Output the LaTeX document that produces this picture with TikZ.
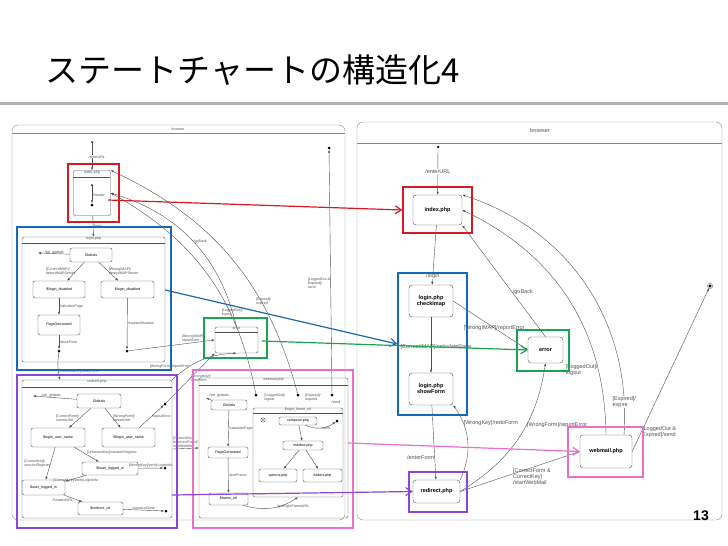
\documentclass[tikz,border=0pt]{standalone}
\usepackage{fontspec}
\setmainfont{Liberation Sans}
\newfontfamily\cjk{Noto Sans CJK JP}
\usetikzlibrary{positioning,arrows.meta}

\definecolor{hlred}{RGB}{215,25,35}
\definecolor{hlblue}{RGB}{25,105,175}
\definecolor{hlgreen}{RGB}{25,165,80}
\definecolor{hlpink}{RGB}{235,110,205}
\definecolor{hlpurple}{RGB}{140,70,215}
\definecolor{ink}{RGB}{80,80,80}

\tikzset{
  st/.style={draw=ink,rounded corners=3pt,font=\bfseries\fontsize{5.5}{6}\selectfont,align=center,inner sep=1pt},
  sst/.style={draw=ink,rounded corners=2pt,font=\fontsize{3.6}{4}\selectfont,inner sep=0.8pt},
  frame/.style={draw=ink!70,rounded corners=6pt},
  dot/.style={circle,fill=black,inner sep=0pt,minimum size=3pt},
  tr/.style={draw=ink,-{Latex[length=3pt]}},
  lbl/.style={font=\fontsize{5.5}{6}\selectfont,text=ink,align=left,inner sep=0.5pt},
  slbl/.style={font=\fontsize{3.6}{4}\selectfont,text=ink,align=left,inner sep=0.3pt},
  hl/.style={draw=#1,line width=1.4pt,minimum width=0pt},
  link/.style={draw=#1,line width=1.2pt,-{Straight Barb[length=6pt,width=8pt]}}
}

\begin{document}
\begin{tikzpicture}[x=1pt,y=-1pt]
    \useasboundingbox (0,0) rectangle (728,546);
    % title
    \node[anchor=west,font=\cjk\fontsize{33}{36}\selectfont] (title) at (42,70) {ステートチャートの構造化4};
    \draw[line width=3pt,gray!60] (0,103) -- (728,103);

    % ---------- left chart ----------
    \draw[frame] (12,125) rectangle (345,520);
    \draw[ink!70] (12,133) -- (345,133);
    \node[slbl] (lbrowser) at (178,129) {browser};

    \node[dot,minimum size=2pt] (lstart) at (92,142) {};
    \node[sst,minimum width=37pt,minimum height=45pt] (lindex) at (92,193) {};
    \node[slbl,anchor=north] (lindext) at (lindex.north) {index.php};
    \draw[ink] (73,177) -- (110,177);
    \node[dot,minimum size=2pt] (lhin) at (92,185) {};
    \node[dot,minimum size=3pt] (lhout) at (92,205) {};
    \draw[tr] (lhin) -- node[slbl,right] {/header} (lhout);
    \draw[tr] (lstart) -- node[slbl,right=-4pt,fill=white] {/enterURL} (lindex);

    \node[sst,minimum width=143pt,minimum height=125pt] (llogin) at (93.5,299.5) {};
    \node[slbl,anchor=north] (llogint) at (llogin.north) {login.php};
    \draw[ink] (22,243) -- (165,243);
    \node[sst,minimum width=42pt,minimum height=14pt] (lglob) at (91,255) {Globals};
    \node[sst,minimum width=52pt,minimum height=17pt] (lnotdis) at (59,289.5) {!\$login\_disabled};
    \node[sst,minimum width=53pt,minimum height=17pt] (ldis) at (127.5,289.5) {\$login\_disabled};
    \node[sst,minimum width=42pt,minimum height=20pt] (lpage) at (59,325) {PageGenerated};
    \node[dot] (lfin1) at (59,351) {};
    \node[dot] (lfin2) at (127,351) {};
    \coordinate (lgl) at (38,253);
    \draw[tr] (lglob) -- (lgl) node[slbl,right=6pt] {/set\_globals};
    \draw[tr] (lglob) -- node[slbl,left] {[CorrectIMAP]/\\detectIMAPServer} (lnotdis);
    \draw[tr] (lglob) -- node[slbl,right] {[WrongIMAP]/\\detectIMAPServer} (ldis);
    \draw[tr] (lnotdis) -- node[slbl,right] {/calculatePage} (lpage);
    \draw[tr] (lpage) -- node[slbl,right] {/showForm} (lfin1);
    \draw[tr] (ldis) -- node[slbl,right] {/explainSituation} (lfin2);
    \draw[tr] (lindex) -- node[slbl,right] {/login} (llogin.north);

    \node[sst,minimum width=43pt,minimum height=26pt] (lerror) at (236.5,340) {};
    \node[slbl,anchor=north] (lerrort) at (lerror.north) {error};
    \draw[ink] (215,332) -- (258,332);
    \draw[tr] (lfin2) -- node[slbl,above,pos=0.75] {[WrongIMAP]/\\reportError} (lerror.west);
    \draw[tr] (lerror.north) to[bend right=30] node[slbl,right] {/goBack} (lindex.east);
    \draw[tr] (lfin1) to[bend right=10] node[slbl,below right,pos=0.6] {[CorrectIMAP]/enterForm} (60,380);

    \node[sst,minimum width=150pt,minimum height=138pt] (lredir) at (97,449) {};
    \node[slbl,anchor=north] (lredirt) at (lredir.north) {redirect.php};
    \draw[ink] (22,387) -- (172,387);
    \node[sst,minimum width=44pt,minimum height=14pt] (rglob) at (99,401) {Globals};
    \node[sst,minimum width=54pt,minimum height=19pt] (luser) at (58,437.5) {\$login\_user\_name};
    \node[sst,minimum width=53pt,minimum height=19pt] (lnouser) at (128.5,437.5) {!\$login\_user\_name};
    \node[sst,minimum width=56pt,minimum height=13pt] (lnolog) at (110,468.5) {!\$user\_logged\_in};
    \node[sst,minimum width=43pt,minimum height=15pt] (llog) at (43.5,487.5) {\$user\_logged\_in};
    \node[sst,minimum width=45pt,minimum height=13pt] (lurl) at (100.5,508.5) {\$redirect\_url};
    \node[dot] (rfin1) at (165,404) {};
    \node[dot] (rfin2) at (165,468) {};
    \node[dot] (rfin3) at (166,511) {};
    \coordinate (rgl) at (33,396);
    \draw[tr] (rglob) -- (rgl) node[slbl,right=8pt] {/set\_globals};
    \draw[tr] (rglob) -- node[slbl,left] {[CorrectForm]/\\nameIsSet} (luser);
    \draw[tr] (rglob) -- node[slbl,right] {[WrongForm]/\\nameIsSet} (lnouser);
    \draw[tr] (lnouser) -- node[slbl,right] {/logoutError} (rfin1);
    \draw[tr] (luser) -- node[slbl,above right] {[UnknownKey]/sessionRegister} (lnolog);
    \draw[tr] (luser) -- node[slbl,left] {[CorrectKey]/\\sessionRegister} (llog);
    \draw[tr] (lnolog) -- node[slbl,above] {[WrongKey]/verifyLoginInfo} (rfin2);
    \draw[tr] (lnolog) -- node[slbl,below] {[CorrectKey]/verifyLoginInfo} (llog);
    \draw[tr] (llog) -- node[slbl,below left] {/forwardURL} (lurl);
    \draw[tr] (lurl) -- node[slbl,above] {/sessionClose} (rfin3);
    \draw[tr] (rfin1) -- node[slbl,right] {[WrongKey]/\\redoForm} (lerror.south west);
    \draw[tr] (lredir.north east) to[bend left=20] node[slbl,left,pos=0.3] {[WrongForm]/reportError} (lerror.south);

    \node[sst,minimum width=149pt,minimum height=140pt] (lweb) at (273.5,448) {};
    \node[slbl,anchor=north] (lwebt) at (lweb.north) {webmail.php};
    \draw[ink] (199,385) -- (348,385);
    \node[sst,minimum width=36pt,minimum height=10pt] (wglob) at (229,405) {Globals};
    \node[sst,minimum width=40pt,minimum height=11pt] (wpage) at (228,452.5) {PageGenerated};
    \node[sst,minimum width=39pt,minimum height=12pt] (wframe) at (228.5,499) {\$frame\_url};
    \node[sst,minimum width=90pt,minimum height=89pt] (wright) at (298,452.5) {};
    \node[slbl,anchor=north] (wrightt) at (wright.north) {\$right\_frame\_url};
    \draw[ink] (253,413) -- (343,413);
    \node[sst,minimum width=38pt,minimum height=8pt] (wcomp) at (298,421) {compose.php};
    \node[sst,minimum width=40pt,minimum height=9pt] (wmail) at (303,445.5) {mailbox.php};
    \node[sst,minimum width=38pt,minimum height=13pt] (wopt) at (278,475.5) {options.php};
    \node[sst,minimum width=39pt,minimum height=13pt] (wfold) at (322.5,475.5) {folders.php};
    \node[draw=ink,circle,inner sep=0.5pt,font=\fontsize{3}{3}\selectfont] (whist) at (263,420) {H};
    \node[dot] (wfin1) at (256,395) {};
    \node[dot] (wfin2) at (298,395) {};
    \node[dot] (wfin3) at (332,395) {};
    \node[dot] (wsend) at (337,421) {};
    \coordinate (wgl) at (206,398);
    \draw[tr] (wglob.north west) -- (wgl) node[slbl,anchor=south west,xshift=3pt] {/set\_globals};
    \draw[tr] (wglob) -- node[slbl,right] {/calculatePage} (wpage);
    \draw[tr] (wpage) -- node[slbl,right] {/sizeFrame} (wframe);
    \draw[tr] (wframe) to[bend right=25] node[slbl,right,pos=0.6] {/getRightFrameURL} (wright.south);
    \draw[tr] (wcomp) -- (wmail);
    \draw[tr] (wmail) -- (wopt);
    \draw[tr] (wmail) -- (wfold);
    \draw[tr] (wcomp) to[bend right=30] node[slbl,right] {/send} (wsend);
    \node[slbl] (wlog) at (275,398) {[LoggedOut]/\\logout};
    \node[slbl] (wexp) at (313,398) {[Expired]/\\expired};
    \node[slbl] (wsendt) at (336,402) {/send};
    \draw[tr] (wfin1) to[bend right=25] node[slbl,above,pos=0.3] {[LoggedOut]/\\logout} (lindex.east);
    \draw[tr] (wfin2) to[bend right=25] node[slbl,above,pos=0.3] {[Expired]/\\expired} (lindex.north east);
    \node[dot] (lend) at (329,148) {};
    \draw[tr] (wfin3) -- node[slbl,left,pos=0.45] {[LoggedOut \&\\Expired]/\\send} (lend);
    \draw[tr] (lredir.east) -- node[slbl,above] {[CorrectKey\\\&CorrectForm]/\\startWebMail} (lweb.west);

    % ---------- right chart ----------
    \draw[frame] (357,122) rectangle (722,520);
    \draw[ink!70] (357,143) -- (722,143);
    \node[lbl] (rbrowser) at (540,131) {browser};
    \node[dot,minimum size=2.5pt] (start) at (438,147) {};
    \node[st,minimum width=49pt,minimum height=30pt] (index) at (437.5,210) {index.php};
    \node[st,minimum width=44pt,minimum height=32pt] (check) at (431,301) {login.php\\checkImap};
    \node[st,minimum width=44pt,minimum height=32pt] (show) at (431,389) {login.php\\showForm};
    \node[st,minimum width=35pt,minimum height=26pt] (error) at (545.5,350) {error};
    \node[st,minimum width=52pt,minimum height=33pt] (webmail) at (606,451.5) {webmail.php};
    \node[st,minimum width=47pt,minimum height=23pt] (redirect) at (436.5,491.5) {redirect.php};
    \node[dot,minimum size=4pt,draw=ink,double] (final) at (710,286) {};
    \draw[tr] (start) -- node[lbl,fill=white] {/enterURL} (index);
    \draw[tr] (index) -- node[lbl,pos=0.85,fill=white] {/login} (check);
    \draw[tr] (check) -- (show);
    \node[lbl] (calc) at (436,347) {[CorrectIMAP]/calculatePage};
    \draw[tr] (check.east) -- node[lbl,pos=0.55] {[WrongIMAP]/reportError} (error.west);
    \draw[tr] (error.north) -- node[lbl,right,pos=0.4] {/goBack} (index.south east);
    \draw[tr] (show) -- node[lbl,left,pos=0.7] {/enterForm} (redirect);
    \draw[tr] (redirect.north east) to[bend right=30] node[lbl,right,pos=0.75] {[WrongKey]/redoForm} (show.south east);
    \draw[tr] (redirect.east) to[bend right=25] node[lbl,right,pos=0.6] {[WrongForm]/reportError} (error.south);
    \draw[tr] (redirect.east) -- node[lbl,below,pos=0.6] {[CorrectForm \&\\CorrectKey]\\/startWebMail} (webmail.west);
    \draw[tr] (webmail.north) to[bend right=32] node[lbl,pos=0.22,left] {[LoggedOut]/\\logout} (index.east);
    \draw[tr] ([xshift=18pt]webmail.north) to[bend right=38] node[lbl,pos=0.1,fill=white] {[Expired]/\\expire} (index.north east);
    \draw[tr] (webmail.east) -- node[lbl,right,pos=0.12] {[LoggedOut \&\\Expired]/send} (final);

    % ---------- highlight boxes and links ----------
    \node[hl=hlred,minimum width=51pt,minimum height=58pt] (lredbox) at (93.5,193) {};
    \node[hl=hlblue,minimum width=154pt,minimum height=143pt] (lbluebox) at (94,298.5) {};
    \node[hl=hlgreen,minimum width=63pt,minimum height=40pt] (lgreenbox) at (235.5,338) {};
    \node[hl=hlpurple,minimum width=160pt,minimum height=153pt] (lpurplebox) at (97,451.5) {};
    \node[hl=hlpink,minimum width=160pt,minimum height=158pt] (lpinkbox) at (273,449) {};
    \node[hl=hlred,minimum width=69pt,minimum height=46pt] (redbox) at (437.5,210) {};
    \node[hl=hlblue,minimum width=69pt,minimum height=142pt] (bluebox) at (432.5,344) {};
    \node[hl=hlgreen,minimum width=52pt,minimum height=41pt] (greenbox) at (543,350.5) {};
    \node[hl=hlpink,minimum width=75pt,minimum height=50pt] (pinkbox) at (605.5,452) {};
    \node[hl=hlpurple,minimum width=58pt,minimum height=40pt] (purplebox) at (438,492) {};
    \coordinate (redsrc) at (108,200);
    \coordinate (bluesrc) at (165,290);
    \coordinate (greensrc) at (262,341);
    \coordinate (pinksrc) at (348,443);
    \coordinate (purplesrc) at (172,495);
    \draw[link=hlred] (redsrc) -- (redbox.west);
    \draw[link=hlblue] (bluesrc) -- (bluebox.west);
    \draw[link=hlgreen] (greensrc) -- (error.west);
    \draw[link=hlpink] (pinksrc) -- (webmail.west);
    \draw[link=hlpurple] (purplesrc) -- (redirect.west);

    \node[font=\bfseries\fontsize{14}{14}\selectfont] (page) at (701,516) {13};
\end{tikzpicture}
\end{document}
